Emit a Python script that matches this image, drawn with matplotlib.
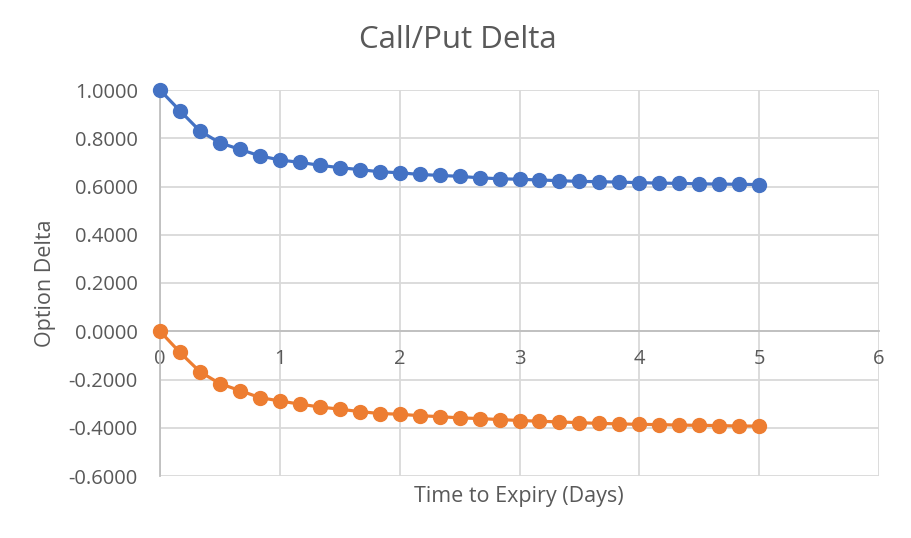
import matplotlib
matplotlib.use("Agg")
import matplotlib.pyplot as plt
import numpy as np

# Data
days = [i / 6 for i in range(31)]
call_delta = [1.000, 0.914, 0.830, 0.781, 0.754, 0.727, 0.710, 0.700, 0.688, 0.678,
              0.670, 0.661, 0.657, 0.650, 0.646, 0.642, 0.636, 0.632, 0.630, 0.627,
              0.624, 0.621, 0.620, 0.618, 0.616, 0.614, 0.613, 0.611, 0.610, 0.609, 0.608]
put_delta = [0.000, -0.088, -0.168, -0.217, -0.246, -0.275, -0.289, -0.302, -0.314, -0.323,
             -0.333, -0.341, -0.344, -0.350, -0.354, -0.359, -0.362, -0.366, -0.370, -0.373,
             -0.376, -0.379, -0.382, -0.384, -0.386, -0.387, -0.389, -0.390, -0.391, -0.393, -0.393]
x_ticks = [0, 1, 2, 3, 4, 5, 6]
y_ticks = [-0.6, -0.4, -0.2, 0.0, 0.2, 0.4, 0.6, 0.8, 1.0]

plt.rcParams['font.family'] = ['Open Sans', 'DejaVu Sans']
text_color = '#595959'

fig = plt.figure(figsize=(9.11, 5.38), dpi=100)
ax = fig.add_axes([160/911, 1 - 476/538, (879-160)/911, (476-90)/538])

ax.plot(days, call_delta, color='#4472C4', linewidth=2.3, marker='o', markersize=10, zorder=3, clip_on=False)
ax.plot(days, put_delta, color='#ED7D31', linewidth=2.3, marker='o', markersize=10, zorder=3, clip_on=False)

ax.set_xlim(0, 6)
ax.set_ylim(-0.6, 1.0)
ax.set_xticks(x_ticks)
ax.set_yticks(y_ticks)
ax.set_yticklabels([f"{v:.4f}" for v in y_ticks])
ax.grid(True, color='#D9D9D9', linewidth=1.3, zorder=0)
ax.set_axisbelow(True)

for s in ['top', 'right']:
    ax.spines[s].set_visible(False)
ax.spines['bottom'].set_position(('data', 0))
ax.spines['bottom'].set_color('#BFBFBF')
ax.spines['bottom'].set_linewidth(1.3)
ax.spines['left'].set_color('#BFBFBF')
ax.spines['left'].set_linewidth(1.3)

ax.tick_params(axis='both', length=0, labelsize=14.5, labelcolor=text_color)
ax.tick_params(axis='x', pad=13)
ax.tick_params(axis='y', pad=16)

fig.text(458/911, 1 - 48/538, 'Call/Put Delta', ha='center', va='baseline', fontsize=22.5, color=text_color)
fig.text(519/911, 1 - 502/538, 'Time to Expiry (Days)', ha='center', va='baseline', fontsize=15.5, color=text_color)
fig.text(46/911, 1 - 283/538, 'Option Delta', ha='center', va='center', fontsize=15.5, color=text_color, rotation=90)

fig.savefig('out.png', dpi=100)
